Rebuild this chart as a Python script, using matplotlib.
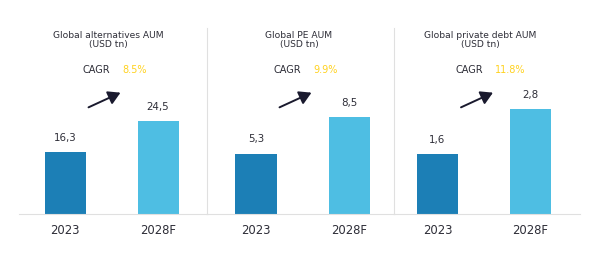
import matplotlib
matplotlib.use("Agg")
import matplotlib.pyplot as plt
from matplotlib.patches import FancyArrowPatch

# ---- data ----
panel_titles = ["Global alternatives AUM\n(USD tn)", "Global PE AUM\n(USD tn)", "Global private debt AUM\n(USD tn)"]
categories = ["2023", "2028F"]
values_alt = [16.3, 24.5]
values_pe = [5.3, 8.5]
values_debt = [1.6, 2.8]
cagr_labels = ["8.5%", "9.9%", "11.8%"]
series = [values_alt, values_pe, values_debt]

# ---- style ----
W, H = 600, 254
TEXT = "#2e2e38"
DARK = "#1c7fb6"
LIGHT = "#4ebee3"
YELLOW = "#ffd21f"
GRID = "#e0e0e0"

fig = plt.figure(figsize=(W / 100, H / 100), dpi=100)
fig.patch.set_facecolor("white")

def fx(px):
    return px / W

def fy(py):
    return 1 - py / H

base_y = 214
top_y = 28
center0 = [65, 256, 437.5]
spacing = 93
bar_w = 41 / spacing
panel_edges = [(19, 207), (207, 394), (394, 580)]
px_per_unit_target = [93 / 24.5, 97 / 8.5, 105 / 2.8]

for i, vals in enumerate(series):
    l, r = panel_edges[i]
    ax = fig.add_axes([fx(l), fy(base_y), fx(r - l), (base_y - top_y) / H])
    c0 = center0[i]
    ax.set_xlim((l - c0) / spacing, (r - c0) / spacing)
    ax.set_ylim(0, (base_y - top_y) / px_per_unit_target[i])
    x = list(range(len(categories)))
    ax.bar(x, vals, width=bar_w, color=[DARK, LIGHT], zorder=2)
    for xi, v in zip(x, vals):
        ax.annotate(f"{v:.1f}".replace(".", ","), (xi, v), xytext=(0, 6.5),
                    textcoords="offset points", ha="center", va="bottom",
                    fontsize=7.4, color=TEXT)
    ax.set_xticks(x)
    ax.set_xticklabels(categories, fontsize=8.4, color=TEXT)
    ax.tick_params(axis="x", length=0, pad=7)
    ax.set_yticks([])
    for s in ["top", "left", "right"]:
        ax.spines[s].set_visible(False)
    ax.spines["bottom"].set_color(GRID)
    ax.spines["bottom"].set_linewidth(0.8)
    ax.patch.set_alpha(0)

    # title
    fig.text(fx(c0 + 43), fy(40), panel_titles[i], ha="center", va="center",
             fontsize=6.6, color=TEXT, linespacing=1.05)
    # CAGR
    fig.text(fx(c0 + 17.5), fy(70), "CAGR", ha="left", va="center", fontsize=7.0, color=TEXT)
    fig.text(fx(c0 + 57), fy(70), cagr_labels[i], ha="left", va="center", fontsize=7.0, color=YELLOW)
    # arrow
    arr = FancyArrowPatch((fx(c0 + 21), fy(108.5)), (fx(c0 + 58), fy(91.5)),
                          transform=fig.transFigure, arrowstyle="-|>,head_length=6,head_width=3.5",
                          color="#1a1a2e", lw=1.4, mutation_scale=1.2)
    fig.patches.append(arr)

# separators
for sx in [207, 394]:
    fig.add_artist(plt.Line2D([fx(sx), fx(sx)], [fy(top_y), fy(base_y)],
                              transform=fig.transFigure, color=GRID, lw=0.8))

fig.savefig("out.png", dpi=100, facecolor="white")
